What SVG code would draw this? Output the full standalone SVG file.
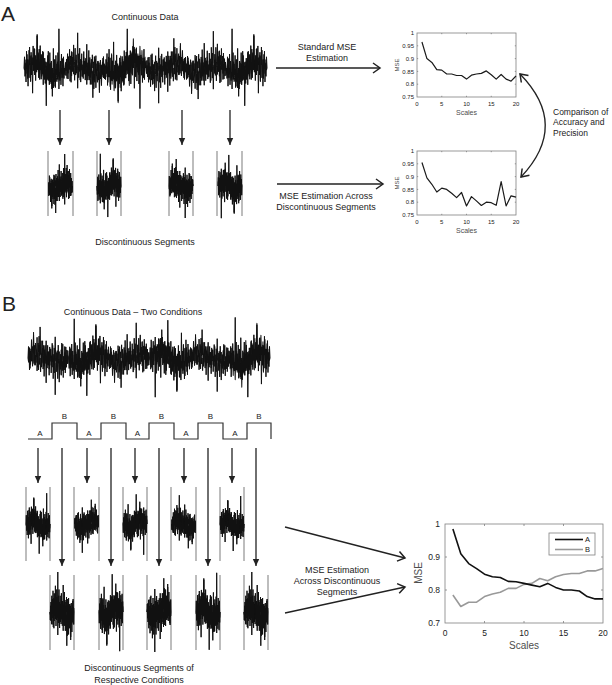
<svg xmlns="http://www.w3.org/2000/svg" width="612" height="685" viewBox="0 0 612 685">
<style>
text{font-family:"Liberation Sans",Arial,sans-serif;fill:#222}
.lbl{font-size:9px;text-anchor:middle}
.big{font-size:21px}
.tk{font-size:6px;fill:#4d4d4d}
.tkb{font-size:8.5px;fill:#4d4d4d}
.ax{fill:#fff;stroke:#808080;stroke-width:0.8}
.tick{stroke:#808080;stroke-width:0.8;fill:none}
.seg{stroke:#9a9a9a;stroke-width:1.3}
.conn{stroke:#222;stroke-width:1.3;fill:none}
.dn{marker-end:url(#tri)}
.ch{marker-end:url(#chev)}
.sq{fill:none;stroke:#333;stroke-width:1.2}
.dat{fill:none;stroke:#1a1a1a;stroke-width:1.2;stroke-linejoin:round}
.datA{fill:none;stroke:#111;stroke-width:1.6;stroke-linejoin:round}
.datB{fill:none;stroke:#999;stroke-width:1.6;stroke-linejoin:round}
.nz{fill:none;stroke:#111;stroke-width:1;stroke-linejoin:round;vector-effect:non-scaling-stroke}
</style>
<defs>
<path id="nz" class="nz" d="M0,0 L0.5,-8 1,6 1.5,-3 2,10 2.5,-12 3,4 3.5,-6 4,13 4.5,-2 5,7 5.5,-15 6,3 6.5,9 7,-9 7.5,5 8,-4 8.5,18 9,-7 9.5,2 10,-14 10.5,5 11,-8 11.5,9 12,-6 12.5,3 13,-23 13.5,1 14,-11 14.5,7 15,-4 15.5,4 16,-16 16.5,0 17,8 17.5,-9 18,-1 18.5,-12 19,12 19.5,-7 20,8 20.5,-7 21,11 21.5,1 22,27 22.5,-4 23,6 23.5,-9 24,9 24.5,-2 25,12 25.5,-11 26,4 26.5,10 27,-5 27.5,15 28,0 28.5,7 29,-14 29.5,13 30,-6 30.5,2 31,14 31.5,-9 32,5 32.5,-3 33,8 33.5,-11 34,6 34.5,-28 35,4 35.5,9 36,-5 36.5,3 37,-10 37.5,7 38,-2 38.5,13 39,-8 39.5,4 40,0"/>
<path id="nz2" class="nz" d="M0,0 L0.5,10 1,-4 1.5,9 2,-9 2.5,6 3,0 3.5,16 4,-3 4.5,10 5,4 5.5,20 6,-3 6.5,11 7,-6 7.5,13 8,9 8.5,1 9,18 9.5,-8 10,13 10.5,5 11,19 11.5,2 12,27 12.5,3 13,15 13.5,-5 14,8 14.5,15 15,-4 15.5,11 16,-16 16.5,7 17,11 17.5,-2 18,15 18.5,-6 19,3 19.5,11 20,-6 20.5,3 21,-15 21.5,6 22,-3 22.5,8 23,-13 23.5,2 24,-8 24.5,11 25,-18 25.5,-1 26,-13 26.5,2 27,-32 27.5,-4 28,0 28.5,-12 29,4 29.5,-18 30,-6 30.5,-1 31,-21 31.5,-3 32,-10 32.5,3 33,-15 33.5,13 34,-11 34.5,-3 35,-17 35.5,1 36,-8 36.5,10 37,-13 37.5,1 38,-8 38.5,7 39,-5 39.5,2 40,0"/>
<g id="nzc"><use href="#nz"/><use href="#nz2" transform="translate(40,0) scale(-1,0.75)"/></g>
<g id="nzd"><use href="#nz2"/><use href="#nz" transform="translate(40,0) scale(-1,-0.8)"/></g>
<marker id="tri" viewBox="-8 -4 9 8" refX="0" refY="0" markerWidth="9" markerHeight="8" orient="auto" markerUnits="userSpaceOnUse"><path d="M-7,-3.2 L0,0 L-7,3.2 Z" fill="#222"/></marker>
<marker id="chev" viewBox="-10 -7 12 14" refX="0" refY="0" markerWidth="12" markerHeight="14" orient="auto-start-reverse" markerUnits="userSpaceOnUse"><path d="M-7,-5 L0,0 L-7,5" fill="none" stroke="#222" stroke-width="1.5"/></marker>
</defs>
<rect width="612" height="685" fill="#fff"/>

<g id="panel-A-label"><text class="big" x="1" y="21">A</text></g>

<g id="continuous-data">
<text class="lbl" x="145" y="20">Continuous Data</text>
<use href="#nzc" transform="translate(24,68) scale(1.0125,1.4)"/>
<use href="#nzd" transform="translate(105,68) scale(-1.0125,1.1)"/>
<use href="#nzc" transform="translate(105,68) scale(1.0125,-1.45)"/>
<use href="#nzd" transform="translate(186,68) scale(-1.0125,-1.1)"/>
<use href="#nzd" transform="translate(186,68) scale(1.0125,1.15)"/>
<use href="#nzc" transform="translate(267,68) scale(-1.0125,1.4)"/>
</g>

<g id="discontinuous-segments">
<line class="seg" x1="48" y1="151" x2="48" y2="216"/><line class="seg" x1="73" y1="151" x2="73" y2="216"/>
<line class="seg" x1="97" y1="151" x2="97" y2="216"/><line class="seg" x1="121" y1="151" x2="121" y2="216"/>
<line class="seg" x1="169" y1="151" x2="169" y2="216"/><line class="seg" x1="193" y1="151" x2="193" y2="216"/>
<line class="seg" x1="217" y1="151" x2="217" y2="216"/><line class="seg" x1="242" y1="151" x2="242" y2="216"/>
<use href="#nzd" transform="translate(48.5,186) scale(0.6,1.0)"/>
<use href="#nzc" transform="translate(121,186) scale(-0.6,1.15)"/>
<use href="#nzd" transform="translate(169,186) scale(0.6,-1.0)"/>
<use href="#nzc" transform="translate(242,186) scale(-0.6,-1.15)"/>
<text class="lbl" x="145" y="245">Discontinuous Segments</text>
</g>

<g id="plot-standard-mse">
<rect class="ax" x="417" y="33" width="99" height="64"/>
<path class="tick" d="M441.75,97v-1.2M466.5,97v-1.2M491.25,97v-1.2M441.75,33v1.2M466.5,33v1.2M491.25,33v1.2M417,45.8h1.2M417,58.6h1.2M417,71.4h1.2M417,84.2h1.2M516,45.8h-1.2M516,58.6h-1.2M516,71.4h-1.2M516,84.2h-1.2"/>
<g class="tk" text-anchor="end"><text x="414" y="35.1">1</text><text x="414" y="47.9">0.95</text><text x="414" y="60.7">0.9</text><text x="414" y="73.5">0.85</text><text x="414" y="86.3">0.8</text><text x="414" y="99.1">0.75</text></g>
<g class="tk" text-anchor="middle"><text x="417" y="106">0</text><text x="441.75" y="106">5</text><text x="466.5" y="106">10</text><text x="491.25" y="106">15</text><text x="516" y="106">20</text></g>
<text x="466.5" y="114.5" style="font-size:7px;fill:#4d4d4d;text-anchor:middle">Scales</text>
<text transform="translate(399,65) rotate(-90)" style="font-size:6px;fill:#4d4d4d;text-anchor:middle">MSE</text>
<polyline class="dat" points="421.95,42 426.9,58.6 431.85,62.4 436.8,69.6 441.75,70.1 446.7,74 451.65,74 456.6,75.5 461.55,75.5 466.5,79.1 471.45,75.2 476.4,74 481.35,73.4 486.3,70.9 491.25,74.7 496.2,79.1 501.15,74.5 506.1,79.1 511.05,81.1 516,76"/>
</g>

<g id="plot-discontinuous-mse" transform="translate(0,118)">
<rect class="ax" x="417" y="33" width="99" height="64"/>
<path class="tick" d="M441.75,97v-1.2M466.5,97v-1.2M491.25,97v-1.2M441.75,33v1.2M466.5,33v1.2M491.25,33v1.2M417,45.8h1.2M417,58.6h1.2M417,71.4h1.2M417,84.2h1.2M516,45.8h-1.2M516,58.6h-1.2M516,71.4h-1.2M516,84.2h-1.2"/>
<g class="tk" text-anchor="end"><text x="414" y="35.1">1</text><text x="414" y="47.9">0.95</text><text x="414" y="60.7">0.9</text><text x="414" y="73.5">0.85</text><text x="414" y="86.3">0.8</text><text x="414" y="99.1">0.75</text></g>
<g class="tk" text-anchor="middle"><text x="417" y="106">0</text><text x="441.75" y="106">5</text><text x="466.5" y="106">10</text><text x="491.25" y="106">15</text><text x="516" y="106">20</text></g>
<text x="466.5" y="114.5" style="font-size:7px;fill:#4d4d4d;text-anchor:middle">Scales</text>
<text transform="translate(399,65) rotate(-90)" style="font-size:6px;fill:#4d4d4d;text-anchor:middle">MSE</text>
<polyline class="dat" points="421.95,44.5 426.9,59.9 431.85,66.3 436.8,74 441.75,70.1 446.7,71.4 451.65,75.2 456.6,79.6 461.55,74.5 466.5,88 471.45,78.6 476.4,82.9 481.35,87.5 486.3,84.2 491.25,84.7 496.2,87.3 501.15,63.7 506.1,88 511.05,77.8 516,79.1"/>
</g>

<g id="comparison-label">
<text x="553" y="114.5" style="font-size:8.5px">Comparison of</text>
<text x="553" y="125" style="font-size:8.5px">Accuracy and</text>
<text x="553" y="135.5" style="font-size:8.5px">Precision</text>
</g>

<g id="label-standard"><text class="lbl" x="327" y="50">Standard MSE</text><text class="lbl" x="327" y="60.5">Estimation</text></g>
<g id="label-across"><text class="lbl" x="326" y="199">MSE Estimation Across</text><text class="lbl" x="326" y="209.5">Discontinuous Segments</text></g>

<g id="panel-B-label"><text class="big" x="2" y="311">B</text></g>

<g id="continuous-two-conditions">
<text class="lbl" x="133" y="315">Continuous Data – Two Conditions</text>
<use href="#nzd" transform="translate(28,358) scale(1.008,-1.15)"/>
<use href="#nzc" transform="translate(109,358) scale(-1.008,1.4)"/>
<use href="#nzd" transform="translate(109,358) scale(1.008,1.1)"/>
<use href="#nzc" transform="translate(190,358) scale(-1.008,-1.4)"/>
<use href="#nzd" transform="translate(190,358) scale(1.008,-1.05)"/>
<use href="#nzc" transform="translate(270,358) scale(-1.008,1.45)"/>
</g>

<g id="condition-wave">
<polyline class="sq" points="28,439 52,439 52,423 77,423 77,439 101,439 101,423 126,423 126,439 149,439 149,423 174,423 174,439 198,439 198,423 223,423 223,439 247,439 247,423 271,423 271,439"/>
<g style="font-size:8px;text-anchor:middle">
<text x="40" y="435.5">A</text><text x="89" y="435.5">A</text><text x="137.5" y="435.5">A</text><text x="186" y="435.5">A</text><text x="235" y="435.5">A</text>
<text x="64.5" y="419">B</text><text x="113.5" y="419">B</text><text x="161.5" y="419">B</text><text x="210.5" y="419">B</text><text x="259" y="419">B</text>
</g>
</g>

<g id="segments-condition-A">
<line class="seg" x1="26" y1="487" x2="26" y2="561"/><line class="seg" x1="50" y1="487" x2="50" y2="561"/>
<line class="seg" x1="74" y1="487" x2="74" y2="561"/><line class="seg" x1="99" y1="487" x2="99" y2="561"/>
<line class="seg" x1="123" y1="487" x2="123" y2="561"/><line class="seg" x1="147" y1="487" x2="147" y2="561"/>
<line class="seg" x1="171" y1="487" x2="171" y2="561"/><line class="seg" x1="196" y1="487" x2="196" y2="561"/>
<line class="seg" x1="220" y1="487" x2="220" y2="561"/><line class="seg" x1="244" y1="487" x2="244" y2="561"/>
<use href="#nzc" transform="translate(26,524) scale(0.6,1.1)"/>
<use href="#nzd" transform="translate(98.5,524) scale(-0.6,-0.9)"/>
<use href="#nzc" transform="translate(123,524) scale(0.6,-1.1)"/>
<use href="#nzd" transform="translate(195.5,524) scale(-0.6,0.9)"/>
<use href="#nzc" transform="translate(220,524) scale(0.6,1.0)"/>
</g>

<g id="segments-condition-B">
<line class="seg" x1="50" y1="575" x2="50" y2="650"/><line class="seg" x1="74" y1="575" x2="74" y2="650"/>
<line class="seg" x1="99" y1="575" x2="99" y2="650"/><line class="seg" x1="123" y1="575" x2="123" y2="650"/>
<line class="seg" x1="147" y1="575" x2="147" y2="650"/><line class="seg" x1="171" y1="575" x2="171" y2="650"/>
<line class="seg" x1="196" y1="575" x2="196" y2="650"/><line class="seg" x1="220" y1="575" x2="220" y2="650"/>
<line class="seg" x1="244" y1="575" x2="244" y2="650"/><line class="seg" x1="268" y1="575" x2="268" y2="650"/>
<use href="#nzd" transform="translate(74,612) scale(-0.6,1.25)"/>
<use href="#nzc" transform="translate(99,612) scale(0.6,-1.4)"/>
<use href="#nzd" transform="translate(171,612) scale(-0.6,-1.25)"/>
<use href="#nzc" transform="translate(196,612) scale(0.6,1.4)"/>
<use href="#nzd" transform="translate(268,612) scale(-0.6,1.25)"/>
<text class="lbl" x="139" y="671">Discontinuous Segments of</text>
<text class="lbl" x="139" y="683">Respective Conditions</text>
</g>

<g id="label-across-B">
<text class="lbl" x="337" y="573">MSE Estimation</text>
<text class="lbl" x="337" y="584">Across Discontinuous</text>
<text class="lbl" x="337" y="594.5">Segments</text>
</g>

<g id="plot-conditions-mse">
<rect class="ax" x="445" y="524" width="158" height="99"/>
<path class="tick" d="M484.5,623v-2M524,623v-2M563.5,623v-2M484.5,524v2M524,524v2M563.5,524v2M445,557h2M445,590h2M603,557h-2M603,590h-2"/>
<g class="tkb" text-anchor="end"><text x="440" y="527">1</text><text x="440" y="560">0.9</text><text x="440" y="593">0.8</text><text x="440" y="626">0.7</text></g>
<g class="tkb" text-anchor="middle"><text x="445" y="636">0</text><text x="484.5" y="636">5</text><text x="524" y="636">10</text><text x="563.5" y="636">15</text><text x="603" y="636">20</text></g>
<text x="524" y="648.5" style="font-size:10px;fill:#4d4d4d;text-anchor:middle">Scales</text>
<text transform="translate(422,573) rotate(-90)" style="font-size:10px;fill:#4d4d4d;text-anchor:middle">MSE</text>
<polyline class="datB" points="452.9,595 460.8,606.5 468.7,602.2 476.6,602.2 484.5,596.6 492.4,594 500.3,592.3 508.2,588.4 516.1,588.4 524,584.4 531.9,583.4 539.8,578.5 547.7,580.8 555.6,576.8 563.5,574.5 571.4,573.5 579.3,573.5 587.2,570.9 595.1,570.9 603,568.6"/>
<polyline class="datA" points="452.9,529 460.8,553.7 468.7,563.6 476.6,568.6 484.5,574.2 492.4,576.8 500.3,577.5 508.2,581.4 516.1,581.8 524,583.4 531.9,585.1 539.8,586.7 547.7,583.4 555.6,587.4 563.5,590 571.4,590 579.3,591 587.2,596.6 595.1,598.9 603,598.9"/>
<rect x="549" y="533" width="46" height="22" fill="#fff" stroke="#808080" stroke-width="0.8"/>
<line x1="555" y1="539.5" x2="583" y2="539.5" stroke="#111" stroke-width="1.6"/>
<line x1="555" y1="549.5" x2="583" y2="549.5" stroke="#999" stroke-width="1.6"/>
<text x="585" y="542.3" style="font-size:7.5px">A</text>
<text x="585" y="552.3" style="font-size:7.5px">B</text>
</g>

<g id="connectors">
<line class="conn dn" x1="60" y1="110" x2="60" y2="145"/>
<line class="conn dn" x1="109" y1="110" x2="109" y2="145"/>
<line class="conn dn" x1="182" y1="110" x2="182" y2="145"/>
<line class="conn dn" x1="230" y1="110" x2="230" y2="145"/>
<line class="conn ch" x1="276" y1="68" x2="380" y2="68"/>
<line class="conn ch" x1="277" y1="184" x2="383" y2="184"/>
<path class="conn" d="M520,74 Q570,125 521,177" marker-start="url(#chev)" marker-end="url(#chev)"/>
<line class="conn dn" x1="38" y1="448" x2="38" y2="483"/>
<line class="conn dn" x1="87" y1="448" x2="87" y2="483"/>
<line class="conn dn" x1="135" y1="448" x2="135" y2="483"/>
<line class="conn dn" x1="184" y1="448" x2="184" y2="483"/>
<line class="conn dn" x1="232" y1="448" x2="232" y2="483"/>
<line class="conn dn" x1="62" y1="448" x2="62" y2="566"/>
<line class="conn dn" x1="111" y1="448" x2="111" y2="566"/>
<line class="conn dn" x1="159" y1="448" x2="159" y2="566"/>
<line class="conn dn" x1="208" y1="448" x2="208" y2="566"/>
<line class="conn dn" x1="256" y1="448" x2="256" y2="566"/>
<line class="conn ch" x1="285" y1="527" x2="405" y2="558"/>
<line class="conn ch" x1="285" y1="613" x2="405" y2="587"/>
</g>
</svg>
